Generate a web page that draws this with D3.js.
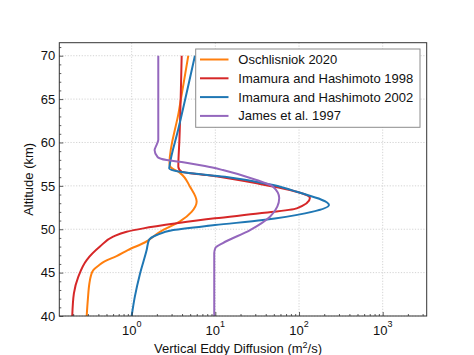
<!DOCTYPE html>
<html>
<head>
<meta charset="utf-8">
<script src="https://cdn.jsdelivr.net/npm/d3@7"></script>
<style>
  html, body { margin: 0; padding: 0; background: #fff; }
  svg text { font-family: "Liberation Sans", Arial, sans-serif; fill: #111; }
</style>
</head>
<body>
<svg id="chart" width="474" height="355"></svg>
<script>
// ---- data (altitude in km, diffusion in m^2/s) ----
const seriesNames = ["Oschlisniok 2020", "Imamura and Hashimoto 1998", "Imamura and Hashimoto 2002", "James et al. 1997"];
const seriesColors = ["#ff7f0e", "#d62728", "#1f77b4", "#9467bd"];

const oschAlt = [40, 42.0, 43.8, 44.6, 45.3, 45.8, 46.3, 46.9, 47.6, 48.5, 49.7, 50.9, 52.0, 53.2, 54.9, 56.5, 57.2, 57.6, 63.5, 70];
const oschVal = [0.29, 0.30, 0.313, 0.325, 0.348, 0.40, 0.475, 0.66, 0.90, 1.45, 2.18, 3.78, 5.2, 5.98, 4.98, 3.78, 2.9, 2.83, 3.65, 4.75];

const im98Alt = [40, 42.6, 44.5, 46.45, 48.0, 49.14, 49.71, 50.1, 50.68, 51.26, 51.83, 52.41, 53.6, 54.52, 55.29, 56.24, 56.62, 57.2, 60.3, 70];
const im98Val = [0.195, 0.204, 0.23, 0.29, 0.418, 0.60, 0.87, 1.38, 3.45, 9.9, 34, 94, 135, 78, 31.2, 7.88, 3.96, 3.61, 3.72, 3.96];

const im02Alt = [40, 42.2, 44.9, 47.6, 48.76, 49.33, 49.9, 50.48, 51.06, 51.83, 52.8, 54.32, 55.09, 56.05, 56.62, 57.0, 57.6, 61.4, 70];
const im02Val = [1.0, 1.09, 1.26, 1.51, 1.61, 1.99, 3.14, 9.9, 37, 118, 228, 94, 49, 13.0, 3.78, 2.81, 2.87, 3.58, 5.7];

const jamesAlt = [40, 47.26, 47.83, 48.4, 49.9, 51.44, 52.6, 53.6, 54.9, 55.67, 56.82, 57.28, 57.68, 57.97, 58.3, 59.1, 59.8, 60.3, 70];
const jamesVal = [9.7, 9.7, 10.0, 12.3, 26, 45, 55, 58, 49, 31, 12.3, 7.5, 4.3, 2.62, 2.05, 1.88, 2.0, 2.08, 2.08];

const xMajorTicks = [1, 10, 100, 1000];
const yTicks = [40, 45, 50, 55, 60, 65, 70];
const xLabel = "Vertical Eddy Diffusion (m";
const yLabel = "Altitude (km)";

// ---- layout ----
const svg = d3.select("#chart");
const L = 59.3, R = 426.7, T = 42.7, B = 316;
const x = d3.scaleLog().domain([0.1365, 3357]).range([L, R]);
const y = d3.scaleLinear().domain([40, 71.5]).range([B, T]);

// grid
const grid = svg.append("g");
xMajorTicks.forEach(v => {
  grid.append("line").attr("x1", x(v)).attr("x2", x(v)).attr("y1", T).attr("y2", B)
    .attr("stroke", "#c8c8c8").attr("stroke-width", 0.8).attr("stroke-dasharray", "1.2,1.6");
});
yTicks.forEach(v => {
  grid.append("line").attr("x1", L).attr("x2", R).attr("y1", y(v)).attr("y2", y(v))
    .attr("stroke", "#c8c8c8").attr("stroke-width", 0.8).attr("stroke-dasharray", "1.2,1.6");
});

// lines
const allSeries = [
  [oschAlt, oschVal], [im98Alt, im98Val], [im02Alt, im02Val], [jamesAlt, jamesVal]
];
const lineGen = d3.line().x(d => x(d[1])).y(d => y(d[0])).curve(d3.curveMonotoneY);
svg.append("clipPath").attr("id", "clip").append("rect")
  .attr("x", L).attr("y", T).attr("width", R - L).attr("height", B - T);
allSeries.forEach((s, i) => {
  const pts = s[0].map((a, j) => [a, s[1][j]]).sort((p, q) => q[0] - p[0]);
  svg.append("path").datum(pts).attr("d", lineGen)
    .attr("fill", "none").attr("stroke", seriesColors[i]).attr("stroke-width", 2)
    .attr("stroke-linejoin", "round").attr("stroke-linecap", "butt")
    .attr("clip-path", "url(#clip)");
});

// axes
const minorX = [];
for (let e = -1; e <= 3; e++) for (let m = 2; m <= 9; m++) {
  const v = m * Math.pow(10, e);
  if (v > x.domain()[0] && v < x.domain()[1]) minorX.push(v);
}
const minorY = d3.range(40, 72, 1).filter(v => v % 5 !== 0);

svg.append("g").attr("transform", `translate(0,${B})`)
  .call(d3.axisBottom(x).tickValues(xMajorTicks).tickSize(-4).tickPadding(10).tickFormat(""));
svg.append("g").attr("transform", `translate(0,${B})`)
  .call(d3.axisBottom(x).tickValues(minorX).tickSize(-2).tickFormat(""));
const yAxis = svg.append("g").attr("transform", `translate(${L},0)`)
  .call(d3.axisLeft(y).tickValues(yTicks).tickSize(-4).tickPadding(4));
svg.append("g").attr("transform", `translate(${L},0)`)
  .call(d3.axisLeft(y).tickValues(minorY).tickSize(-2).tickFormat(""));
svg.selectAll(".domain").remove();
svg.selectAll(".tick line").attr("stroke", "#333").attr("stroke-width", 0.8);
yAxis.selectAll("text").attr("font-size", 13).style("fill", "#111");

// x tick labels 10^n
xMajorTicks.forEach(v => {
  const t = svg.append("text").attr("x", x(v)).attr("y", 335)
    .attr("text-anchor", "middle").attr("font-size", 13);
  t.append("tspan").text("10");
  t.append("tspan").attr("dy", -8).attr("font-size", 9).text(String(Math.round(Math.log10(v))));
});

// frame
svg.append("rect").attr("x", L).attr("y", T).attr("width", R - L).attr("height", B - T)
  .attr("fill", "none").attr("stroke", "#333").attr("stroke-width", 1);

// axis labels
const xl = svg.append("text").attr("x", (L + R) / 2 - 5).attr("y", 353)
  .attr("text-anchor", "middle").attr("font-size", 13);
xl.append("tspan").text(xLabel);
xl.append("tspan").attr("dy", -5).attr("font-size", 9).text("2");
xl.append("tspan").attr("dy", 5).text("/s)");
svg.append("text").attr("transform", `translate(33,${(T + B) / 2}) rotate(-90)`)
  .attr("text-anchor", "middle").attr("font-size", 13).text(yLabel);

// legend
const lg = svg.append("g");
lg.append("rect").attr("x", 195.7).attr("y", 49).attr("width", 224.3).attr("height", 78.3)
  .attr("fill", "#fff").attr("stroke", "#8c8c8c").attr("stroke-width", 1);
seriesNames.forEach((n, i) => {
  const yy = 59.5 + i * 18.8;
  lg.append("line").attr("x1", 200).attr("x2", 228.5).attr("y1", yy).attr("y2", yy)
    .attr("stroke", seriesColors[i]).attr("stroke-width", 2);
  lg.append("text").attr("x", 238.3).attr("y", yy).attr("dy", "0.35em")
    .attr("font-size", 13).text(n);
});
</script>
</body>
</html>
